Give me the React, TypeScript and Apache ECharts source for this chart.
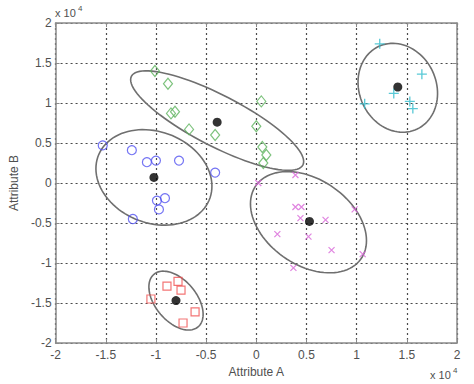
import React, { useEffect, useRef } from "react";
import * as echarts from "echarts";

// Cluster points (values in raw units; axes show them ×10^4)
const blueX = [-15300, -12400, -10900, -10000, -7700, -4100, -9900, -9100, -9700, -12300];
const blueY = [4700, 4100, 2600, 2800, 2800, 1300, -2200, -1900, -3300, -4500];

const greenX = [-10100, -8800, -8500, -8100, -6700, -4100, 500, 0, 600, 1000, 700];
const greenY = [14000, 12400, 8700, 8900, 6700, 6000, 10200, 7100, 4500, 3500, 2500];

const magentaX = [3900, 200, 3900, 4500, 4400, 6900, 9800, 2100, 5200, 7500, 10600, 3700];
const magentaY = [1000, 0, -3000, -3000, -4400, -4600, -3300, -6400, -6700, -8400, -8900, -10600];

const cyanX = [12300, 16500, 13700, 10800, 15300, 15600];
const cyanY = [17400, 13600, 11200, 9900, 10200, 9300];

const redX = [-10500, -8900, -7800, -7500, -6100, -7300];
const redY = [-14500, -12900, -12300, -13400, -16100, -17500];

const centroidX = [-10200, -3900, 5300, 14100, -8000];
const centroidY = [700, 7600, -4800, 12000, -14700];

// Ellipses: centre x, centre y, semi-axis a, semi-axis b, rotation (deg)
const ellipseCx = [-10200, -3900, 5200, 14100, -8000];
const ellipseCy = [700, 7800, -4900, 11900, -14700];
const ellipseA = [6400, 10200, 7100, 5600, 4000];
const ellipseB = [5300, 3000, 4800, 3900, 2200];
const ellipseAngle = [-50, -34, -52, 100, -62];

const xTicks = { min: -20000, max: 20000, interval: 5000 };
const yTicks = { min: -20000, max: 20000, interval: 5000 };

const zip = (xs: number[], ys: number[]) => xs.map((x, i) => [x, ys[i]]);

const FONT = "Arial, 'Liberation Sans', sans-serif";

export default function App() {
  const ref = useRef<HTMLDivElement>(null);

  useEffect(() => {
    if (!ref.current) return;
    const chart = echarts.init(ref.current, undefined, { renderer: "svg" });

    const ellipseData = ellipseCx.map((cx, i) => [
      cx,
      ellipseCy[i],
      ellipseA[i],
      ellipseB[i],
      ellipseAngle[i],
    ]);

    const fmt = (v: number) => String(Math.round(v / 1000) / 10);

    const gridLine = {
      show: true,
      lineStyle: { color: "#4a4a4a", width: 1.2, type: [2, 3] as any },
    };
    const frameLine = { show: true, lineStyle: { color: "#8a8a8a", width: 1.5 } };
    const tick = { show: true, inside: true, length: 4, lineStyle: { color: "#8a8a8a" } };
    const textColor = "#505050";

    chart.setOption({
      animation: false,
      backgroundColor: "#fff",
      grid: { left: 55, top: 23, right: 17, bottom: 41, containLabel: false },
      xAxis: [
        {
          type: "value",
          ...xTicks,
          position: "bottom",
          axisLine: { ...frameLine, onZero: false },
          axisTick: tick,
          axisLabel: { formatter: fmt, color: textColor, fontSize: 12, fontFamily: FONT, margin: 6 },
          splitLine: gridLine,
          name: "Attribute A",
          nameLocation: "middle",
          nameGap: 21,
          nameTextStyle: { color: textColor, fontSize: 12, fontFamily: FONT },
        },
        {
          type: "value",
          ...xTicks,
          position: "top",
          axisLine: { ...frameLine, onZero: false },
          axisTick: tick,
          axisLabel: { show: false },
          splitLine: { show: false },
        },
      ],
      yAxis: [
        {
          type: "value",
          ...yTicks,
          position: "left",
          axisLine: { ...frameLine, onZero: false },
          axisTick: tick,
          axisLabel: { formatter: fmt, color: textColor, fontSize: 12, fontFamily: FONT, margin: 4 },
          splitLine: gridLine,
          name: "Attribute B",
          nameLocation: "middle",
          nameGap: 35,
          nameRotate: 90,
          nameTextStyle: { color: textColor, fontSize: 12, fontFamily: FONT },
        },
        {
          type: "value",
          ...yTicks,
          position: "right",
          axisLine: { ...frameLine, onZero: false },
          axisTick: tick,
          axisLabel: { show: false },
          splitLine: { show: false },
        },
      ],
      graphic: [
        { type: "text", left: 55, top: 7, style: { text: "x 10", fill: textColor, font: `11px ${FONT}` } },
        { type: "text", left: 78, top: 4, style: { text: "4", fill: textColor, font: `8px ${FONT}` } },
        { type: "text", left: 430, top: 369, style: { text: "x 10", fill: textColor, font: `11px ${FONT}` } },
        { type: "text", left: 453, top: 366, style: { text: "4", fill: textColor, font: `8px ${FONT}` } },
      ],
      series: [
        {
          type: "custom",
          name: "ellipses",
          data: ellipseData,
          z: 3,
          renderItem: (params: any, api: any) => {
            const cx = api.value(0);
            const cy = api.value(1);
            const a = api.value(2);
            const b = api.value(3);
            const th = (api.value(4) * Math.PI) / 180;
            const pts: number[][] = [];
            const n = 96;
            for (let k = 0; k < n; k++) {
              const t = (2 * Math.PI * k) / n;
              const x = cx + a * Math.cos(t) * Math.cos(th) - b * Math.sin(t) * Math.sin(th);
              const y = cy + a * Math.cos(t) * Math.sin(th) + b * Math.sin(t) * Math.cos(th);
              pts.push(api.coord([x, y]));
            }
            return {
              type: "polygon",
              shape: { points: pts },
              style: { fill: "none", stroke: "#6f6f6f", lineWidth: 1.6 },
            };
          },
        },
        {
          type: "scatter",
          name: "blue",
          data: zip(blueX, blueY),
          symbol: "circle",
          symbolSize: 9,
          itemStyle: { color: "transparent", borderColor: "#5050f0", borderWidth: 1.2 },
          z: 4,
        },
        {
          type: "scatter",
          name: "green",
          data: zip(greenX, greenY),
          symbol: "diamond",
          symbolSize: [9, 11],
          itemStyle: { color: "transparent", borderColor: "#5cb35c", borderWidth: 1.2 },
          z: 4,
        },
        {
          type: "scatter",
          name: "magenta",
          data: zip(magentaX, magentaY),
          symbol: "path://M0,0L10,10M10,0L0,10",
          symbolSize: 6,
          itemStyle: { color: "transparent", borderColor: "#d866d8", borderWidth: 1.2 },
          z: 4,
        },
        {
          type: "scatter",
          name: "cyan",
          data: zip(cyanX, cyanY),
          symbol: "path://M5,0L5,10M0,5L10,5",
          symbolSize: 10,
          itemStyle: { color: "transparent", borderColor: "#30bccc", borderWidth: 1.3 },
          z: 4,
        },
        {
          type: "scatter",
          name: "red",
          data: zip(redX, redY),
          symbol: "rect",
          symbolSize: 8,
          itemStyle: { color: "transparent", borderColor: "#f05252", borderWidth: 1.2 },
          z: 4,
        },
        {
          type: "scatter",
          name: "centroids",
          data: zip(centroidX, centroidY),
          symbol: "circle",
          symbolSize: 9,
          itemStyle: { color: "#000" },
          z: 5,
        },
      ],
    });

    return () => chart.dispose();
  }, []);

  return (
    <div
      ref={ref}
      style={{ position: "fixed", left: 0, top: 0, width: 474, height: 384, background: "#fff" }}
    />
  );
}
